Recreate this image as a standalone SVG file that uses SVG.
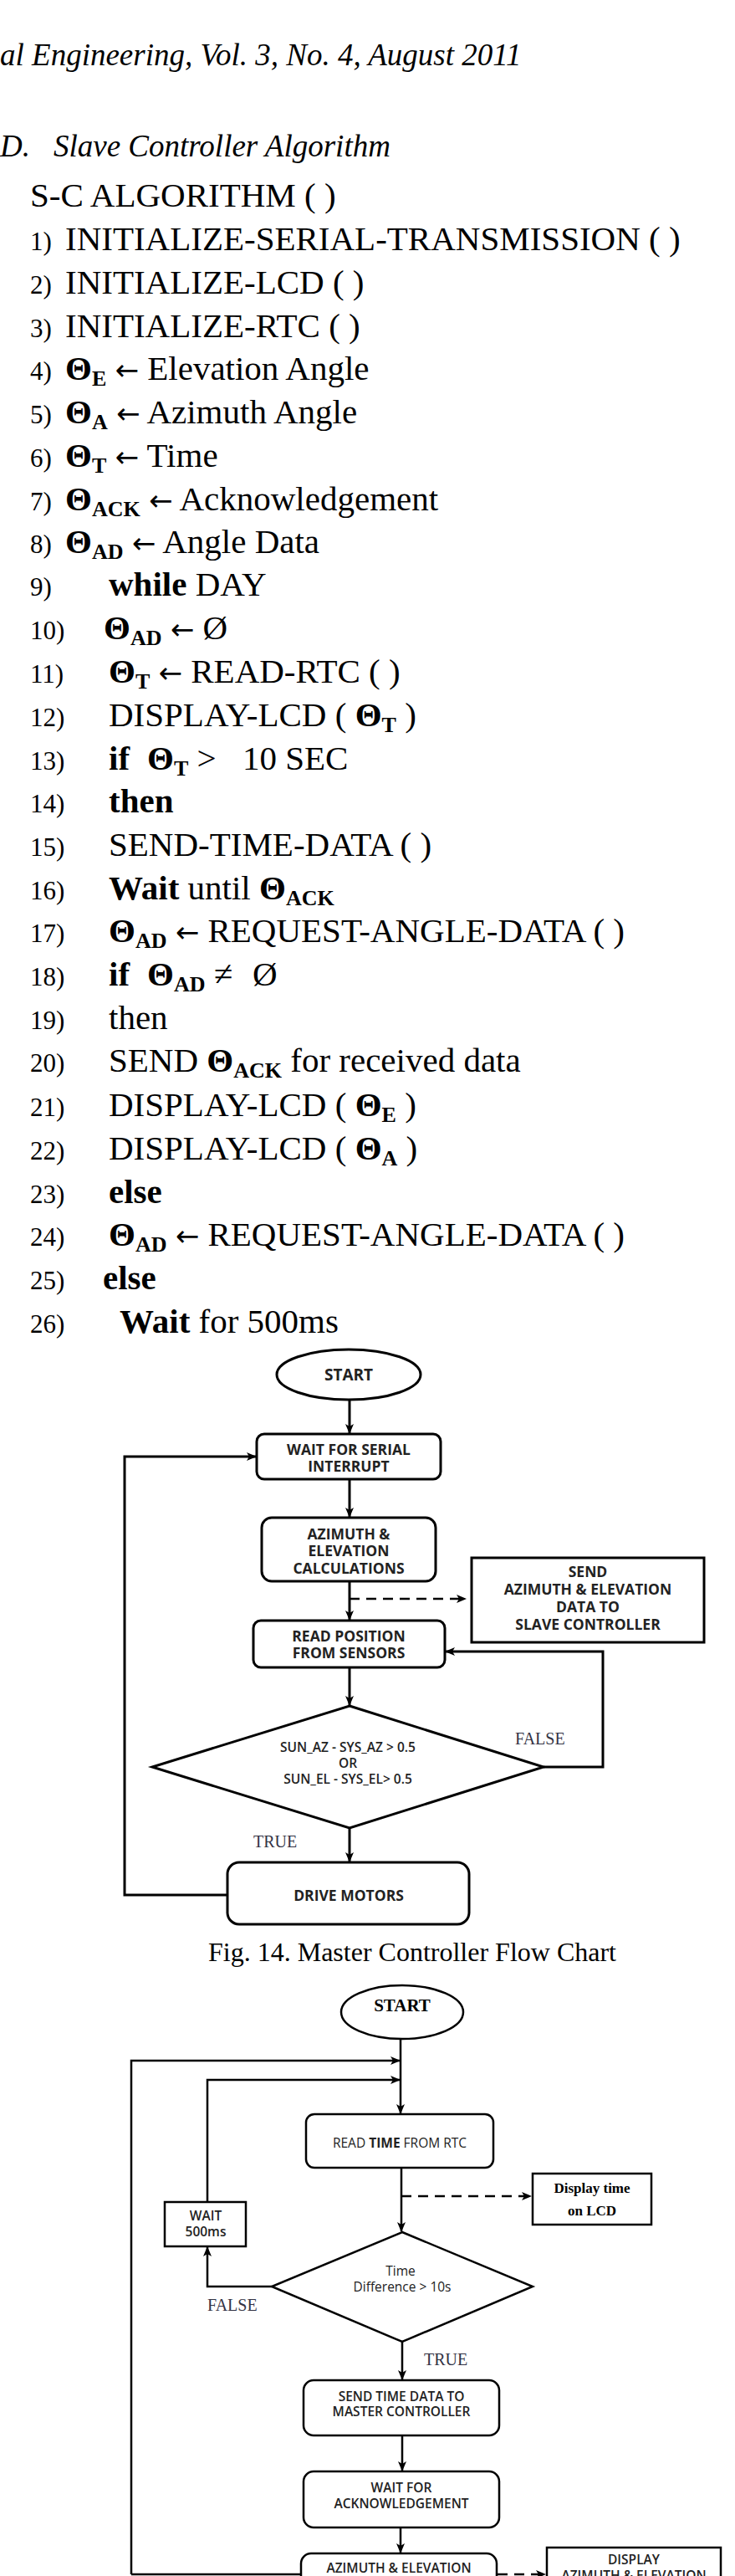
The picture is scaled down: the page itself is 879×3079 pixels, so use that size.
<svg xmlns="http://www.w3.org/2000/svg" width="879" height="3079" viewBox="0 0 879 3079">
<style>
.t{font-family:"Liberation Serif","DejaVu Serif",serif;font-size:41px;fill:#000}
.n{font-size:31px}
.b{font-weight:bold}
.s{font-size:26px;font-weight:bold}
.ar{font-family:"DejaVu Sans",sans-serif;font-size:34px}
.hd{font-family:"Liberation Serif",serif;font-style:italic;font-size:37px}
.f1{font-family:"Open Sans","Liberation Sans",sans-serif;font-weight:700;font-size:17.5px;fill:#222;text-anchor:middle}
.f2{font-family:"Open Sans","Liberation Sans",sans-serif;font-weight:600;font-size:15.5px;fill:#222;text-anchor:middle}
.lab{font-family:"Liberation Serif",serif;font-size:20px;fill:#334;}
.box{fill:#fff;stroke:#000;stroke-width:3}
.box2{fill:#fff;stroke:#000;stroke-width:2.5}
.ln{fill:none;stroke:#000;stroke-width:3}
.ln2{fill:none;stroke:#000;stroke-width:2.5}
.dash{fill:none;stroke:#000;stroke-width:2.5;stroke-dasharray:12 8}
</style>
<defs>
<marker id="ah" viewBox="0 0 12 10" refX="11" refY="5" markerWidth="12" markerHeight="10" markerUnits="userSpaceOnUse" orient="auto"><path d="M0,0 L12,5 L0,10 L3,5 Z" fill="#000"/></marker>
</defs>
<rect width="879" height="3079" fill="#fff"/>
<g id="text">
<text class="hd" x="0" y="78">al Engineering, Vol. 3, No. 4, August 2011</text>
<text class="hd" x="0" y="187">D.<tspan x="64">Slave Controller Algorithm</tspan></text>
<text class="t" x="36" y="247">S-C ALGORITHM ( )</text>
<text class="t" x="36" y="299"><tspan class="n">1)</tspan><tspan x="78">INITIALIZE-SERIAL-TRANSMISSION ( )</tspan></text>
<text class="t" x="36" y="351"><tspan class="n">2)</tspan><tspan x="78">INITIALIZE-LCD ( )</tspan></text>
<text class="t" x="36" y="403"><tspan class="n">3)</tspan><tspan x="78">INITIALIZE-RTC ( )</tspan></text>
<text class="t" x="36" y="454"><tspan class="n">4)</tspan><tspan x="78" class="b">Θ</tspan><tspan class="s" dy="7">E</tspan><tspan dy="-7"> </tspan><tspan class="ar">←</tspan> Elevation Angle</text>
<text class="t" x="36" y="506"><tspan class="n">5)</tspan><tspan x="78" class="b">Θ</tspan><tspan class="s" dy="7">A</tspan><tspan dy="-7"> </tspan><tspan class="ar">←</tspan> Azimuth Angle</text>
<text class="t" x="36" y="558"><tspan class="n">6)</tspan><tspan x="78" class="b">Θ</tspan><tspan class="s" dy="7">T</tspan><tspan dy="-7"> </tspan><tspan class="ar">←</tspan> Time</text>
<text class="t" x="36" y="610"><tspan class="n">7)</tspan><tspan x="78" class="b">Θ</tspan><tspan class="s" dy="7">ACK</tspan><tspan dy="-7"> </tspan><tspan class="ar">←</tspan> Acknowledgement</text>
<text class="t" x="36" y="661"><tspan class="n">8)</tspan><tspan x="78" class="b">Θ</tspan><tspan class="s" dy="7">AD</tspan><tspan dy="-7"> </tspan><tspan class="ar">←</tspan> Angle Data</text>
<text class="t" x="36" y="712"><tspan class="n">9)</tspan><tspan x="130" class="b">while</tspan> DAY</text>
<text class="t" x="36" y="764"><tspan class="n">10)</tspan><tspan x="124" class="b">Θ</tspan><tspan class="s" dy="7">AD</tspan><tspan dy="-7"> </tspan><tspan class="ar">←</tspan> Ø</text>
<text class="t" x="36" y="816"><tspan class="n">11)</tspan><tspan x="130" class="b">Θ</tspan><tspan class="s" dy="7">T</tspan><tspan dy="-7"> </tspan><tspan class="ar">←</tspan> READ-RTC ( )</text>
<text class="t" x="36" y="868"><tspan class="n">12)</tspan><tspan x="130">DISPLAY-LCD ( </tspan><tspan class="b">Θ</tspan><tspan class="s" dy="7">T</tspan><tspan dy="-7"> )</tspan></text>
<text class="t" x="36" y="920"><tspan class="n">13)</tspan><tspan x="130" class="b">if</tspan><tspan x="176" class="b">Θ</tspan><tspan class="s" dy="7">T</tspan><tspan dy="-7"> &gt; </tspan><tspan x="290">10 SEC</tspan></text>
<text class="t" x="36" y="971"><tspan class="n">14)</tspan><tspan x="130" class="b">then</tspan></text>
<text class="t" x="36" y="1023"><tspan class="n">15)</tspan><tspan x="130">SEND-TIME-DATA ( )</tspan></text>
<text class="t" x="36" y="1075"><tspan class="n">16)</tspan><tspan x="130" class="b">Wait</tspan> until <tspan class="b">Θ</tspan><tspan class="s" dy="7">ACK</tspan></text>
<text class="t" x="36" y="1126"><tspan class="n">17)</tspan><tspan x="130" class="b">Θ</tspan><tspan class="s" dy="7">AD</tspan><tspan dy="-7"> </tspan><tspan class="ar">←</tspan> REQUEST-ANGLE-DATA ( )</text>
<text class="t" x="36" y="1178"><tspan class="n">18)</tspan><tspan x="130" class="b">if</tspan><tspan x="176" class="b">Θ</tspan><tspan class="s" dy="7">AD</tspan><tspan dy="-7"> ≠ </tspan><tspan x="302">Ø</tspan></text>
<text class="t" x="36" y="1230"><tspan class="n">19)</tspan><tspan x="130">then</tspan></text>
<text class="t" x="36" y="1281"><tspan class="n">20)</tspan><tspan x="130">SEND </tspan><tspan class="b">Θ</tspan><tspan class="s" dy="7">ACK</tspan><tspan dy="-7"> for received data</tspan></text>
<text class="t" x="36" y="1334"><tspan class="n">21)</tspan><tspan x="130">DISPLAY-LCD ( </tspan><tspan class="b">Θ</tspan><tspan class="s" dy="7">E</tspan><tspan dy="-7"> )</tspan></text>
<text class="t" x="36" y="1386"><tspan class="n">22)</tspan><tspan x="130">DISPLAY-LCD ( </tspan><tspan class="b">Θ</tspan><tspan class="s" dy="7">A</tspan><tspan dy="-7"> )</tspan></text>
<text class="t" x="36" y="1438"><tspan class="n">23)</tspan><tspan x="130" class="b">else</tspan></text>
<text class="t" x="36" y="1489"><tspan class="n">24)</tspan><tspan x="130" class="b">Θ</tspan><tspan class="s" dy="7">AD</tspan><tspan dy="-7"> </tspan><tspan class="ar">←</tspan> REQUEST-ANGLE-DATA ( )</text>
<text class="t" x="36" y="1541"><tspan class="n">25)</tspan><tspan x="123" class="b">else</tspan></text>
<text class="t" x="36" y="1593"><tspan class="n">26)</tspan><tspan x="143" class="b">Wait</tspan> for 500ms</text>
<text class="t" x="249" y="2344" style="font-size:32px">Fig. 14. Master Controller Flow Chart</text>
</g>
<g id="connectors1">
<line class="ln" x1="418" y1="1673" x2="418" y2="1713" marker-end="url(#ah)"/>
<line class="ln" x1="418" y1="1768" x2="418" y2="1813" marker-end="url(#ah)"/>
<line class="ln" x1="418" y1="1890" x2="418" y2="1936" marker-end="url(#ah)"/>
<line class="dash" x1="418" y1="1911" x2="557" y2="1911" marker-end="url(#ah)"/>
<line class="ln" x1="418" y1="1993" x2="418" y2="2038" marker-end="url(#ah)"/>
<polyline class="ln" points="650,2112 721,2112 721,1974 533,1974" marker-end="url(#ah)"/>
<line class="ln" x1="418" y1="2185" x2="418" y2="2225" marker-end="url(#ah)"/>
<polyline class="ln" points="272,2265 149,2265 149,1741 306,1741" marker-end="url(#ah)"/>
</g>
<g id="m-start"><ellipse class="box" cx="417" cy="1643" rx="86" ry="30"/><text class="f1" x="417" y="1650" style="font-size:19px">START</text></g>
<g id="m-wait"><rect class="box" x="307" y="1714" width="220" height="54" rx="9"/><text class="f1" x="417" y="1739">WAIT FOR SERIAL</text><text class="f1" x="417" y="1759">INTERRUPT</text></g>
<g id="m-calc"><rect class="box" x="313" y="1814" width="208" height="76" rx="12"/><text class="f1" x="417" y="1840">AZIMUTH &amp;</text><text class="f1" x="417" y="1860">ELEVATION</text><text class="f1" x="417" y="1881">CALCULATIONS</text></g>
<g id="m-send"><rect class="box" x="564" y="1862" width="278" height="101"/><text class="f1" x="703" y="1885">SEND</text><text class="f1" x="703" y="1906">AZIMUTH &amp; ELEVATION</text><text class="f1" x="703" y="1927">DATA TO</text><text class="f1" x="703" y="1948">SLAVE CONTROLLER</text></g>
<g id="m-read"><rect class="box" x="303" y="1937" width="229" height="56" rx="9"/><text class="f1" x="417" y="1962">READ POSITION</text><text class="f1" x="417" y="1982">FROM SENSORS</text></g>
<g id="m-dec"><polygon class="box" points="418,2039 650,2112 418,2185 182,2112"/><text class="f2" x="416" y="2094">SUN_AZ - SYS_AZ &gt; 0.5</text><text class="f2" x="416" y="2113">OR</text><text class="f2" x="416" y="2132">SUN_EL - SYS_EL&gt; 0.5</text></g>
<text class="lab" x="616" y="2085">FALSE</text>
<text class="lab" x="303" y="2208">TRUE</text>
<g id="m-drive"><rect class="box" x="272" y="2226" width="289" height="74" rx="14"/><text class="f1" x="417" y="2272">DRIVE MOTORS</text></g>
<g id="connectors2">
<line class="ln2" x1="479" y1="2437" x2="479" y2="2526" marker-end="url(#ah)"/>
<polyline class="ln2" points="157,3077 157,2463 478,2463" marker-end="url(#ah)"/>
<line class="ln2" x1="157" y1="3077" x2="359" y2="3077"/>
<polyline class="ln2" points="248,2632 248,2486 478,2486" marker-end="url(#ah)"/>
<line class="ln2" x1="480" y1="2591" x2="480" y2="2667" marker-end="url(#ah)"/>
<line class="dash" x1="480" y1="2625" x2="635" y2="2625" marker-end="url(#ah)"/>
<polyline class="ln2" points="325,2733 248,2733 248,2686" marker-end="url(#ah)"/>
<line class="ln2" x1="481" y1="2799" x2="481" y2="2844" marker-end="url(#ah)"/>
<line class="ln2" x1="481" y1="2911" x2="481" y2="2953" marker-end="url(#ah)"/>
<line class="ln2" x1="479" y1="3021" x2="479" y2="3051" marker-end="url(#ah)"/>
<line class="dash" x1="595" y1="3077" x2="652" y2="3077" marker-end="url(#ah)"/>
</g>
<g id="s-start"><ellipse class="box2" cx="481" cy="2405" rx="73" ry="32"/><text x="481" y="2404" text-anchor="middle" style="font-family:'Liberation Serif',serif;font-weight:bold;font-size:21px">START</text></g>
<g id="s-read"><rect class="box2" x="366" y="2527" width="224" height="64" rx="10"/><text class="f2" x="478" y="2567" style="font-weight:400">READ <tspan font-weight="700">TIME</tspan> FROM RTC</text></g>
<g id="s-disp"><rect class="box2" x="637" y="2598" width="142" height="61"/><text x="708" y="2621" text-anchor="middle" style="font-family:'Liberation Serif',serif;font-weight:bold;font-size:17px">Display time</text><text x="708" y="2648" text-anchor="middle" style="font-family:'Liberation Serif',serif;font-weight:bold;font-size:17px">on LCD</text></g>
<g id="s-wait"><rect class="box2" x="197" y="2632" width="97" height="53"/><text class="f2" x="246" y="2654">WAIT</text><text class="f2" x="246" y="2673">500ms</text></g>
<g id="s-dec"><polygon class="box2" points="481,2668 637,2733 481,2799 325,2733"/><text class="f2" x="479" y="2720" style="font-weight:500">Time</text><text class="f2" x="481" y="2739" style="font-weight:500">Difference &gt; 10s</text></g>
<text class="lab" x="248" y="2762">FALSE</text>
<text class="lab" x="507" y="2827">TRUE</text>
<g id="s-send"><rect class="box2" x="363" y="2845" width="234" height="66" rx="12"/><text class="f2" x="480" y="2870">SEND TIME DATA TO</text><text class="f2" x="480" y="2888">MASTER CONTROLLER</text></g>
<g id="s-ack"><rect class="box2" x="363" y="2954" width="234" height="67" rx="12"/><text class="f2" x="480" y="2979">WAIT FOR</text><text class="f2" x="480" y="2998">ACKNOWLEDGEMENT</text></g>
<g id="s-az"><rect class="box2" x="360" y="3052" width="234" height="60" rx="12"/><text class="f2" x="477" y="3075">AZIMUTH &amp; ELEVATION</text></g>
<g id="s-dispaz"><rect class="box2" x="654" y="3045" width="208" height="60"/><text class="f2" x="758" y="3065">DISPLAY</text><text class="f2" x="758" y="3084">AZIMUTH &amp; ELEVATION</text></g>
</svg>
